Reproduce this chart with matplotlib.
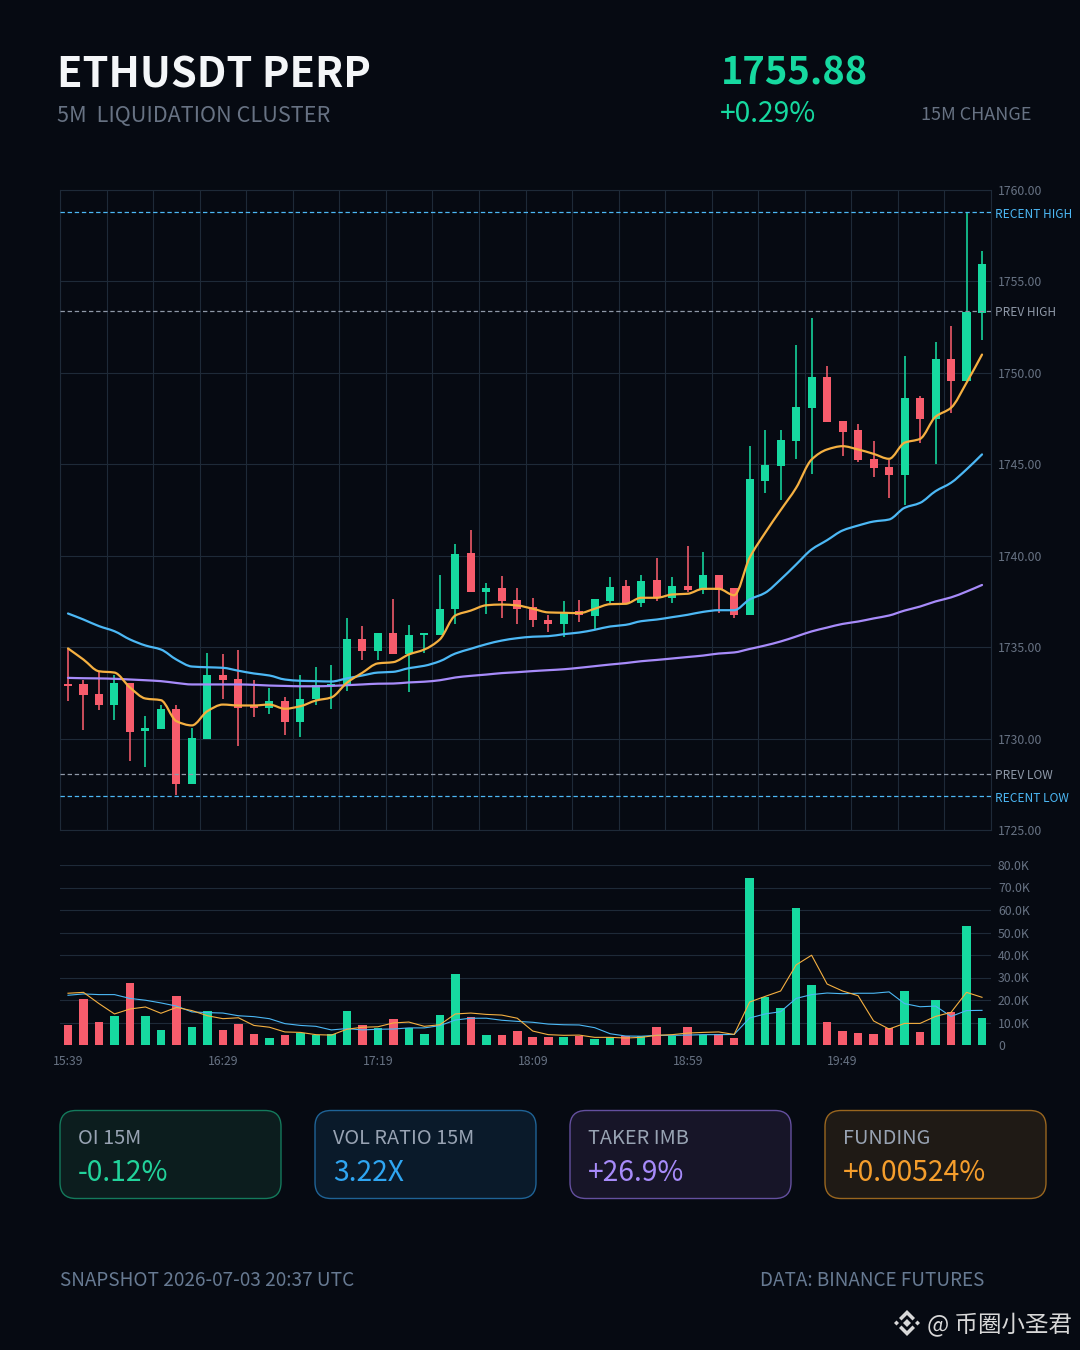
import matplotlib
matplotlib.use("Agg")
import matplotlib.pyplot as plt
from matplotlib.patches import FancyBboxPatch, PathPatch, Polygon
from matplotlib.path import Path

plt.rcParams["font.family"] = ["Noto Sans CJK SC", "DejaVu Sans"]

# candle data
opens = [1732.96, 1732.96, 1732.45, 1731.85, 1733.05, 1730.39, 1730.55, 1731.64, 1727.49, 1730.00,
         1733.49, 1733.27, 1731.81, 1731.66, 1732.07, 1730.90, 1732.14, 1732.90, 1732.96, 1735.42,
         1734.78, 1735.75, 1734.65, 1735.64, 1735.69, 1737.06, 1740.14, 1738.00, 1738.26, 1737.60,
         1737.17, 1736.51, 1736.24, 1736.95, 1736.73, 1737.53, 1738.32, 1737.40, 1738.66, 1737.68,
         1738.32, 1738.11, 1738.97, 1738.26, 1736.77, 1744.11, 1744.90, 1746.26, 1748.07, 1749.80,
         1747.38, 1746.85, 1745.30, 1744.84, 1744.40, 1748.65, 1747.45, 1750.78, 1749.58, 1753.26]
closes = [1732.90, 1732.41, 1731.86, 1733.05, 1730.37, 1730.59, 1731.64, 1727.49, 1730.04, 1733.49,
          1733.21, 1731.68, 1731.66, 1732.07, 1730.90, 1732.19, 1732.94, 1732.96, 1735.42, 1734.78,
          1735.75, 1734.65, 1735.69, 1735.78, 1737.11, 1740.12, 1738.00, 1738.26, 1737.53, 1737.07,
          1736.46, 1736.24, 1736.88, 1736.75, 1737.62, 1738.30, 1737.39, 1738.64, 1737.70, 1738.32,
          1738.10, 1738.97, 1738.15, 1736.77, 1744.17, 1744.97, 1746.34, 1748.11, 1749.80, 1747.32,
          1746.79, 1745.22, 1744.79, 1744.40, 1748.65, 1747.45, 1750.78, 1749.58, 1753.32, 1755.93]
highs = [1734.98, 1733.18, 1733.68, 1733.45, 1733.05, 1731.21, 1731.81, 1731.81, 1730.59, 1734.69,
         1734.60, 1734.82, 1733.18, 1732.76, 1732.30, 1733.47, 1733.89, 1734.00, 1736.57, 1736.13,
         1735.75, 1737.64, 1736.20, 1735.78, 1738.92, 1740.65, 1741.43, 1738.52, 1738.90, 1738.21,
         1737.70, 1736.77, 1737.53, 1737.60, 1737.62, 1738.83, 1738.68, 1738.97, 1739.90, 1738.86,
         1740.54, 1740.23, 1738.97, 1738.26, 1745.99, 1746.85, 1746.90, 1751.50, 1753.01, 1750.39,
         1747.38, 1747.21, 1746.26, 1745.21, 1750.90, 1748.74, 1751.71, 1752.54, 1758.79, 1756.68]
lows = [1732.04, 1730.46, 1731.54, 1730.99, 1728.76, 1728.47, 1730.50, 1726.89, 1727.49, 1730.00,
        1732.14, 1729.58, 1731.17, 1731.32, 1730.18, 1730.06, 1731.83, 1731.59, 1732.59, 1734.27,
        1734.27, 1734.65, 1732.56, 1734.69, 1735.69, 1736.29, 1738.00, 1736.79, 1736.58, 1736.29,
        1736.11, 1735.84, 1735.53, 1736.40, 1735.96, 1737.44, 1737.39, 1737.22, 1737.55, 1737.39,
        1738.04, 1737.88, 1736.86, 1736.57, 1736.77, 1743.44, 1743.04, 1745.30, 1744.46, 1747.32,
        1745.48, 1745.11, 1744.33, 1743.13, 1742.80, 1746.14, 1745.04, 1747.78, 1749.58, 1751.77]

ma_fast = [1734.93, 1734.32, 1733.68, 1733.61, 1732.79, 1732.19, 1732.10, 1730.95, 1730.72, 1731.50,
           1731.86, 1731.81, 1731.81, 1731.86, 1731.63, 1731.77, 1732.08, 1732.25, 1733.05, 1733.60,
           1734.11, 1734.18, 1734.60, 1734.87, 1735.42, 1736.73, 1737.00, 1737.29, 1737.33, 1737.28,
           1737.10, 1736.90, 1736.88, 1736.86, 1737.10, 1737.35, 1737.37, 1737.70, 1737.70, 1737.88,
           1737.92, 1738.19, 1738.19, 1737.84, 1739.89, 1741.25, 1742.49, 1743.71, 1745.26, 1745.81,
           1745.99, 1745.81, 1745.57, 1745.30, 1746.18, 1746.39, 1747.60, 1748.09, 1749.46, 1751.00]
ma_mid = [1736.84, 1736.51, 1736.15, 1735.87, 1735.42, 1735.09, 1734.87, 1734.32, 1733.94, 1733.90,
          1733.87, 1733.71, 1733.56, 1733.45, 1733.23, 1733.16, 1733.14, 1733.12, 1733.29, 1733.45,
          1733.61, 1733.65, 1733.85, 1733.98, 1734.23, 1734.65, 1734.91, 1735.16, 1735.36, 1735.49,
          1735.57, 1735.60, 1735.71, 1735.80, 1735.95, 1736.13, 1736.22, 1736.42, 1736.51, 1736.64,
          1736.77, 1736.93, 1737.02, 1737.02, 1737.61, 1737.97, 1738.70, 1739.52, 1740.34, 1740.85,
          1741.38, 1741.65, 1741.87, 1741.98, 1742.62, 1742.89, 1743.53, 1743.99, 1744.72, 1745.54]
ma_slow = [1733.32, 1733.30, 1733.29, 1733.27, 1733.23, 1733.19, 1733.14, 1733.04, 1732.96, 1732.96,
           1732.96, 1732.96, 1732.94, 1732.90, 1732.88, 1732.86, 1732.86, 1732.88, 1732.92, 1732.96,
           1733.00, 1733.01, 1733.07, 1733.11, 1733.19, 1733.34, 1733.43, 1733.50, 1733.58, 1733.63,
           1733.69, 1733.74, 1733.79, 1733.87, 1733.96, 1734.05, 1734.13, 1734.23, 1734.30, 1734.38,
           1734.46, 1734.54, 1734.65, 1734.71, 1734.90, 1735.09, 1735.31, 1735.58, 1735.86, 1736.07,
           1736.27, 1736.40, 1736.57, 1736.73, 1737.00, 1737.22, 1737.50, 1737.72, 1738.04, 1738.40]

# volume in thousands
volume = [9.0, 20.3, 10.1, 12.7, 27.6, 13.0, 6.7, 21.8, 8.0, 15.0,
          6.7, 9.2, 5.0, 3.1, 4.4, 5.3, 4.3, 4.9, 15.0, 8.9,
          7.7, 11.4, 7.6, 5.0, 13.3, 31.6, 12.4, 4.4, 4.6, 6.2,
          3.6, 3.6, 3.6, 4.0, 2.7, 3.4, 3.9, 3.9, 7.9, 3.9,
          8.0, 4.3, 5.0, 3.3, 74.1, 21.5, 16.3, 60.9, 26.7, 10.1,
          6.4, 5.3, 5.0, 7.6, 24.0, 5.9, 20.0, 14.5, 53.0, 11.9]
vol_fast = [23.0, 23.4, 18.4, 13.8, 16.0, 16.9, 14.1, 16.7, 15.3, 13.0,
            11.7, 12.1, 8.7, 7.9, 5.8, 5.6, 4.6, 4.4, 7.0, 7.9,
            8.1, 9.8, 10.2, 8.3, 9.0, 13.8, 14.2, 13.6, 13.3, 11.9,
            6.2, 4.6, 4.3, 4.4, 3.4, 3.4, 3.1, 3.4, 4.3, 4.6,
            5.3, 5.6, 5.8, 4.7, 19.1, 21.6, 24.0, 35.6, 39.9, 27.1,
            24.0, 21.9, 10.7, 7.1, 9.6, 9.6, 12.7, 14.5, 23.4, 21.2]
vol_slow = [22.1, 22.7, 22.4, 22.4, 20.7, 19.9, 18.7, 17.3, 14.7, 14.4,
            14.2, 13.0, 12.6, 11.7, 9.5, 8.7, 8.3, 6.7, 7.3, 6.7,
            7.0, 7.1, 7.6, 7.6, 8.6, 11.1, 11.9, 11.9, 11.0, 10.5,
            10.1, 9.3, 9.0, 8.9, 7.7, 5.0, 4.0, 3.9, 4.3, 4.3,
            4.4, 4.6, 4.6, 4.7, 12.0, 13.8, 14.8, 20.7, 22.4, 23.1,
            22.8, 23.0, 23.0, 23.6, 18.4, 17.0, 17.3, 12.7, 15.3, 15.4]

price_ticks = [1725, 1730, 1735, 1740, 1745, 1750, 1755, 1760]
vol_ticks = [0, 10, 20, 30, 40, 50, 60, 70, 80]
vol_tick_labels = ["0", "10.0K", "20.0K", "30.0K", "40.0K", "50.0K", "60.0K", "70.0K", "80.0K"]
time_idx = [0, 10, 20, 30, 40, 50]
time_labels = ["15:39", "16:29", "17:19", "18:09", "18:59", "19:49"]

level_names = ["RECENT HIGH", "PREV HIGH", "PREV LOW", "RECENT LOW"]
level_values = [1758.79, 1753.38, 1728.06, 1726.85]

card_titles = ["OI 15M", "VOL RATIO 15M", "TAKER IMB", "FUNDING"]
card_values = ["-0.12%", "3.22X", "+26.9%", "+0.00524%"]

BG = "#060a12"
GRID = "#1e2a38"
TICK = "#677283"
GREEN = "#16d9a0"
RED = "#f75c6c"
BLUE = "#4cb8f5"
ORANGE = "#f5b041"
PURPLE = "#a78bfa"

W, H = 1080, 1350
fig = plt.figure(figsize=(W / 100, H / 100), dpi=100, facecolor=BG)


def px_axes(left, top, right, bottom):
    return fig.add_axes([left / W, 1 - bottom / H, (right - left) / W, (bottom - top) / H])


def smooth_line(ax, xs, ys, color, lw, zorder):
    # monotone cubic through the points, flat at local extremes
    n = len(xs)
    slopes = [ys[i + 1] - ys[i] for i in range(n - 1)]
    tang = [slopes[0]]
    for i in range(1, n - 1):
        a, b = slopes[i - 1], slopes[i]
        tang.append(0 if a * b <= 0 else 2 * a * b / (a + b))
    tang.append(slopes[-1])
    verts = [(xs[0], ys[0])]
    codes = [Path.MOVETO]
    for i in range(n - 1):
        verts += [(xs[i] + 1 / 3, ys[i] + tang[i] / 3),
                  (xs[i + 1] - 1 / 3, ys[i + 1] - tang[i + 1] / 3),
                  (xs[i + 1], ys[i + 1])]
        codes += [Path.CURVE4] * 3
    ax.add_patch(PathPatch(Path(verts, codes), fc="none", ec=color, lw=lw, zorder=zorder,
                           capstyle="round", joinstyle="round"))


x = list(range(len(opens)))
xlim = (-0.516, 59.58)
colors = [GREEN if c >= o else RED for o, c in zip(opens, closes)]

# price panel
ax = px_axes(60, 190, 991, 830)
ax.set_facecolor(BG)
ax.set_xlim(xlim)
ax.set_ylim(1725, 1760)
ax.set_xticks([xlim[0] + (xlim[1] - xlim[0]) * k / 20 for k in range(21)])
ax.set_yticks(price_ticks)
ax.set_yticklabels([f"{t:.2f}" for t in price_ticks])
ax.yaxis.tick_right()
ax.tick_params(axis="x", length=0, labelbottom=False)
ax.tick_params(axis="y", length=0, pad=5, labelsize=8.8, labelcolor=TICK)
ax.grid(True, color=GRID, lw=0.8)
ax.set_axisbelow(True)
for s in ax.spines.values():
    s.set_color(GRID)
    s.set_linewidth(0.8)

ax.vlines(x, lows, highs, colors=colors, lw=1.15, zorder=2)
ax.bar(x, [c - o for o, c in zip(opens, closes)], bottom=opens, width=0.52,
       color=colors, zorder=3)
smooth_line(ax, x, ma_slow, PURPLE, 1.6, 4)
smooth_line(ax, x, ma_mid, BLUE, 1.6, 4)
smooth_line(ax, x, ma_fast, ORANGE, 1.6, 5)

for name, val in zip(level_names, level_values):
    c = BLUE if name.startswith("RECENT") else "#8f99a8"
    ax.axhline(val, color=c, lw=0.9, ls=(0, (3.5, 2.2)), zorder=6)
    ax.annotate(name, xy=(1, val), xycoords=ax.get_yaxis_transform(),
                xytext=(3.2, -1.4), textcoords="offset points",
                color=c, fontsize=8.6, va="center", ha="left", annotation_clip=False)

# volume panel
ax2 = px_axes(60, 865, 991, 1045)
ax2.set_facecolor(BG)
ax2.set_xlim(xlim)
ax2.set_ylim(0, 80)
ax2.set_yticks(vol_ticks)
ax2.set_yticklabels(vol_tick_labels)
ax2.yaxis.tick_right()
ax2.set_xticks(time_idx)
ax2.set_xticklabels(time_labels)
ax2.tick_params(axis="x", length=0, pad=7, labelsize=8.8, labelcolor=TICK)
ax2.tick_params(axis="y", length=0, pad=5, labelsize=8.8, labelcolor=TICK)
ax2.grid(True, axis="y", color=GRID, lw=0.8)
ax2.set_axisbelow(True)
for s in ax2.spines.values():
    s.set_visible(False)
ax2.bar(x, volume, width=0.55, color=colors, zorder=3)
ax2.plot(x, vol_slow, color=BLUE, lw=0.8, zorder=4)
ax2.plot(x, vol_fast, color=ORANGE, lw=0.8, zorder=5)

# overlay for header, cards, footer
top = fig.add_axes([0, 0, 1, 1], zorder=10)
top.set_xlim(0, W)
top.set_ylim(H, 0)
top.axis("off")
top.patch.set_alpha(0)


def label(px, py, s, size, color, weight="normal", ha="left"):
    top.text(px, py, s, fontsize=size * 0.72, color=color, fontweight=weight, ha=ha, va="center")


label(57, 76, "ETHUSDT PERP", 41.6, "#f4f6f8", "bold")
label(57, 116.5, "5M  LIQUIDATION CLUSTER", 21.7, "#677283")
label(721, 73, "1755.88", 38, GREEN, "bold")
label(720, 114, "+0.29%", 28.2, GREEN)
label(921, 115, "15M CHANGE", 18, "#677283")

card_left = [60, 315, 570, 825]
card_fill = ["#0c1d1e", "#0a1a2a", "#171528", "#1f1a15"]
card_edge = ["#147a5c", "#1f6396", "#64509f", "#99661f"]
card_color = ["#22d39b", "#2fa6f2", "#a78bfa", "#f59e2c"]
for i in range(4):
    top.add_patch(FancyBboxPatch((card_left[i] + 16, 1110.5 + 16), 221 - 32, 88 - 32,
                                 boxstyle="round,pad=16", fc=card_fill[i], ec=card_edge[i], lw=1))
    label(card_left[i] + 18, 1139.5, card_titles[i], 19.9, "#98a3b3")
    label(card_left[i] + 18, 1173, card_values[i], 28.2, card_color[i])

label(60, 1280.5, "SNAPSHOT 2026-07-03 20:37 UTC", 19, "#677a92")
label(760, 1280.5, "DATA: BINANCE FUTURES", 18.9, "#677a92")

# watermark logo
logo = "#d8d8d8"
cx, cy = 907, 1323
for poly in [
    [(-4, 0), (0, -4), (4, 0), (0, 4)],
    [(-13, 0), (-10.5, -2.5), (-8, 0), (-10.5, 2.5)],
    [(13, 0), (10.5, -2.5), (8, 0), (10.5, 2.5)],
    [(0, -13), (8, -5), (5.5, -2.5), (0, -8), (-5.5, -2.5), (-8, -5)],
    [(0, 13), (8, 5), (5.5, 2.5), (0, 8), (-5.5, 2.5), (-8, 5)],
]:
    top.add_patch(Polygon([(cx + a, cy + b) for a, b in poly], closed=True, fc=logo, ec="none"))
label(927, 1325, "@ 币圈小圣君", 23.5, logo)

fig.savefig("out.png", dpi=100, facecolor=BG)
